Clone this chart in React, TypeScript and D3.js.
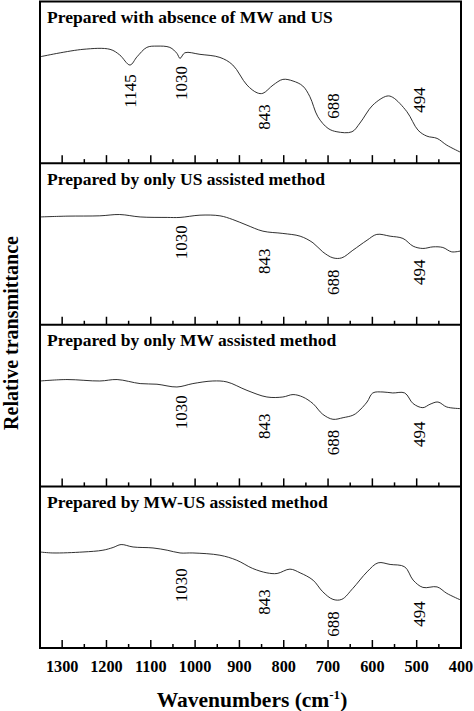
import React from "react";
import * as d3 from "d3";

// ---------- data ----------
const panelTitles = [
  "Prepared with absence of MW and US",
  "Prepared by only US assisted method",
  "Prepared by only MW assisted method",
  "Prepared by MW-US assisted method",
];

const wn1 = [1350, 1253, 1192, 1170, 1147, 1131, 1109, 1086, 1057, 1041, 1034, 1023, 989, 944, 915, 883, 860, 847, 824, 802, 779, 757, 741, 723, 700, 680, 646, 628, 599, 567, 554, 522, 497, 477, 454, 432, 400];
const t1 = [65.8, 70.4, 70.4, 66.9, 60.7, 65.8, 71.6, 72.4, 71.6, 67.9, 64.8, 68.3, 67.3, 65.4, 60.7, 48.3, 43.5, 43.2, 48.3, 51.8, 50.8, 47.7, 41.1, 28.7, 21.5, 19.4, 19.4, 24.8, 35.9, 41.5, 40.7, 31.8, 20.4, 16.7, 15.3, 11.1, 6.6];

const wn2 = [1350, 1289, 1215, 1170, 1124, 1063, 1034, 989, 944, 915, 883, 847, 802, 763, 734, 712, 689, 669, 644, 612, 590, 560, 531, 508, 486, 463, 441, 421, 400];
const t2 = [66.7, 67.2, 67.4, 68.2, 66.7, 66.4, 66.4, 67.8, 67.4, 65.1, 61.6, 57.9, 56.5, 54.8, 50.7, 45.1, 41.4, 41.4, 46.1, 52.3, 55.9, 54.8, 53.4, 48.6, 47.2, 48.2, 47.8, 45.1, 45.7];

const wn3 = [1350, 1289, 1215, 1176, 1124, 1086, 1041, 1005, 960, 928, 883, 838, 802, 779, 757, 734, 712, 689, 666, 644, 633, 612, 599, 576, 554, 527, 508, 486, 470, 452, 432, 400];
const t3 = [65.2, 66.1, 65.2, 66.1, 63.6, 63.2, 61.5, 63.6, 65.2, 64.6, 59.4, 55.3, 55.3, 56.8, 55.3, 51.2, 44.6, 41.5, 42.5, 44.0, 46.0, 52.2, 57.8, 58.4, 57.8, 57.8, 51.2, 48.7, 50.8, 52.2, 49.1, 48.1];

const wn4 = [1350, 1321, 1253, 1208, 1185, 1167, 1140, 1095, 1063, 1034, 1005, 944, 906, 870, 838, 815, 786, 763, 734, 712, 689, 669, 644, 612, 587, 560, 527, 508, 486, 454, 432, 400];
const t4 = [59.4, 58.8, 59.4, 60.5, 62.2, 64.0, 62.5, 61.9, 60.5, 58.8, 58.8, 57.4, 54.3, 49.2, 46.5, 46.1, 48.8, 46.5, 42.0, 34.8, 30.1, 30.1, 36.9, 47.1, 52.7, 51.7, 50.2, 42.0, 37.5, 37.8, 33.8, 29.6];

const peakWn1 = [1145, 1030, 843, 688, 494];
const peakY1 = [44.6, 49.5, 28.5, 35.3, 39.0];
const peakWn2 = [1030, 843, 688, 494];
const peakY2 = [51.1, 39.3, 26.3, 32.5];
const peakWn3 = [1030, 843, 688, 494];
const peakY3 = [45.8, 37.2, 27.2, 32.2];
const peakWn4 = [1030, 843, 688, 494];
const peakY4 = [38.9, 28.4, 14.8, 21.0];

const majorTicks = [1300, 1200, 1100, 1000, 900, 800, 700, 600, 500, 400];
const minorTicks = [1250, 1150, 1050, 950, 850, 750, 650, 550, 450];

const xDomain = [1350, 400];

// ---------- layout ----------
const W = 474;
const H = 711;
const left = 40;
const right = 461;
const top = 1.5;
const bottom = 648;
const FONT = '"Liberation Serif", "DejaVu Serif", serif';

export default function App() {
  const x = d3.scaleLinear().domain(xDomain).range([left, right]);
  const panelY = d3.scaleLinear().domain([0, 4]).range([top, bottom]);

  const series = [
    { wn: wn1, t: t1, pw: peakWn1, py: peakY1 },
    { wn: wn2, t: t2, pw: peakWn2, py: peakY2 },
    { wn: wn3, t: t3, pw: peakWn3, py: peakY3 },
    { wn: wn4, t: t4, pw: peakWn4, py: peakY4 },
  ];

  const tStyle = { fontFamily: FONT };

  return (
    <svg
      width={W}
      height={H}
      style={{ position: "absolute", left: 0, top: 0, display: "block", background: "#fff" }}
    >
      {series.map((s, i) => {
        const pTop = panelY(i);
        const pBot = panelY(i + 1);
        const y = d3.scaleLinear().domain([0, 100]).range([pBot, pTop]);
        const line = d3
          .line<number>()
          .x((_, k) => x(s.wn[k]))
          .y((v) => y(v))
          .curve(d3.curveCatmullRom.alpha(0.5));
        return (
          <g key={i}>
            <path d={line(s.t) || ""} fill="none" stroke="#1a1a1a" strokeWidth={0.9} />
            {majorTicks.map((t) => (
              <line key={"M" + t} x1={x(t)} x2={x(t)} y1={pBot} y2={pBot - 8} stroke="#000" strokeWidth={1.5} />
            ))}
            {minorTicks.map((t) => (
              <line key={"m" + t} x1={x(t)} x2={x(t)} y1={pBot} y2={pBot - 4} stroke="#000" strokeWidth={1.5} />
            ))}
            <text x={47} y={pTop + 21.5} fontSize={17.5} fontWeight="bold" fill="#000" style={tStyle}>
              {panelTitles[i]}
            </text>
            {s.pw.map((p, k) => (
              <text
                key={p}
                transform={`translate(${x(p)},${y(s.py[k])}) rotate(-90)`}
                textAnchor="middle"
                dominantBaseline="central"
                fontSize={17}
                fill="#000"
                style={tStyle}
              >
                {p}
              </text>
            ))}
          </g>
        );
      })}
      {[1, 2, 3].map((i) => (
        <line key={"sep" + i} x1={left} x2={right} y1={panelY(i)} y2={panelY(i)} stroke="#000" strokeWidth={2} />
      ))}
      <rect x={left} y={top} width={right - left} height={bottom - top} fill="none" stroke="#000" strokeWidth={2} />
      {majorTicks.map((t) => (
        <text key={"l" + t} x={x(t)} y={672} textAnchor="middle" fontSize={16.3} fontWeight="bold" fill="#000" style={tStyle}>
          {t}
        </text>
      ))}
      <text x={252} y={707} textAnchor="middle" fontSize={21.5} fontWeight="bold" fill="#000" style={tStyle}>
        Wavenumbers (cm
        <tspan dy={-8} fontSize={13}>-1</tspan>
        <tspan dy={8}>)</tspan>
      </text>
      <text
        transform={`translate(18,333) rotate(-90)`}
        textAnchor="middle"
        fontSize={20}
        fontWeight="bold"
        fill="#000"
        style={tStyle}
      >
        Relative transmittance
      </text>
    </svg>
  );
}
